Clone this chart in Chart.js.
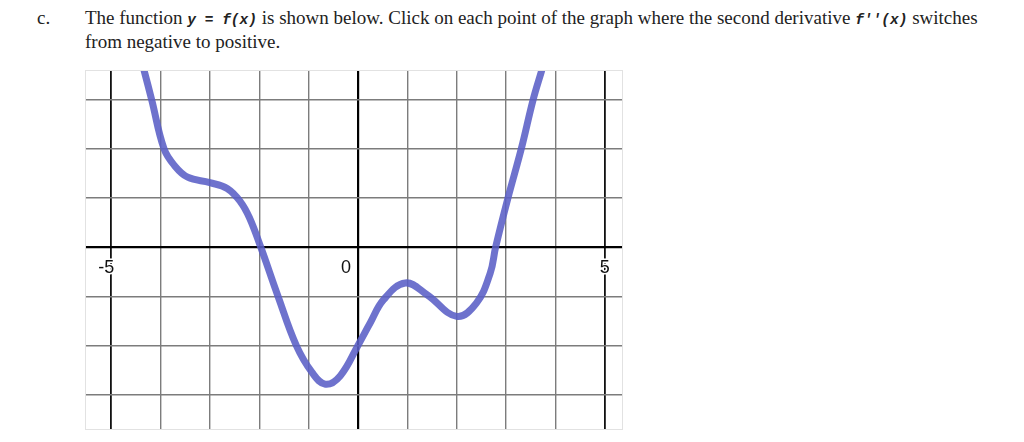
<!DOCTYPE html>
<html>
<head>
<meta charset="utf-8">
<script src="https://cdn.jsdelivr.net/npm/chart.js@4"></script>
<style>
    body { margin: 0; background: #fff; width: 1024px; height: 442px; overflow: hidden; position: relative; }
    .q { position: absolute; font-family: "Liberation Serif", serif; font-size: 19px; color: #222; white-space: nowrap; }
    .q code { font-family: "Liberation Mono", monospace; font-weight: bold; font-style: italic; font-size: 14.5px; }
    #plot { position: absolute; left: 85px; top: 70px; width: 538px; height: 360px; box-sizing: border-box; border: 1px solid #e2e2e2; }
</style>
</head>
<body>
<div class="q" style="left:37px; top:7px;">c.</div>
<div class="q" style="left:85px; top:7px;">The function <code>y = f(x)</code> is shown below. Click on each point of the graph where the second derivative <code>f''(x)</code> switches</div>
<div class="q" style="left:85px; top:31px;">from negative to positive.</div>
<div id="plot"><canvas id="canvas"></canvas></div>
<script>
    // curve points
    var xValues = [-4.33, -4.18, -3.93, -3.72, -3.45, -3.0, -2.65, -2.38, -2.2, -1.97,
                   -1.62, -1.25, -0.93, -0.66, -0.36, 0, 0.25, 0.52, 0.96, 1.40,
                   2.0, 2.40, 2.68, 2.79, 3.04, 3.31, 3.55, 3.72];
    var yValues = [3.58, 3.0, 2.0, 1.66, 1.42, 1.31, 1.19, 0.92, 0.6, 0,
                   -1.0, -2.0, -2.55, -2.79, -2.62, -2.0, -1.54, -1.07, -0.73, -0.97,
                   -1.41, -1.14, -0.53, 0, 1.0, 2.0, 3.0, 3.58];
    var tickValues = [-5, 0, 5];
    var tickLabels = ['-5', '0', '5'];

    var points = xValues.map(function (x, i) { return { x: x, y: yValues[i] }; });

    var gridColor = function (c) {
        var v = c.tick.value;
        if (v === 0) return '#000';
        if (c.scale.axis === 'x' && Math.abs(v) === 5) return '#111';
        return '#7c7c7c';
    };
    var gridWidth = function (c) {
        var v = c.tick.value;
        if (v === 0) return 2.2;
        if (c.scale.axis === 'x' && Math.abs(v) === 5) return 1.8;
        return 1.4;
    };

    var axisLabels = {
        id: 'axisLabels',
        afterDatasetsDraw: function (chart) {
            var ctx = chart.ctx;
            var xs = chart.scales.x, ys = chart.scales.y;
            var base = ys.getPixelForValue(0) + 26;
            ctx.save();
            ctx.font = '18px "Liberation Sans", Arial, sans-serif';
            ctx.textBaseline = 'alphabetic';
            ctx.lineJoin = 'round';
            tickValues.forEach(function (v, i) {
                var px = xs.getPixelForValue(v);
                if (v === 0) { ctx.textAlign = 'right'; px -= 7; }
                else if (v < 0) { ctx.textAlign = 'center'; px -= 5; }
                else { ctx.textAlign = 'center'; }
                ctx.strokeStyle = '#fff';
                ctx.lineWidth = 3;
                ctx.strokeText(tickLabels[i], px, base);
                ctx.fillStyle = '#111';
                ctx.fillText(tickLabels[i], px, base);
            });
            ctx.restore();
        }
    };

    var ctx = document.getElementById("canvas").getContext("2d");

    var myLineChart = new Chart(ctx, {
        type: 'line',
        data: {
            datasets: [
                {
                    data: points,
                    borderColor: "rgba(90, 95, 198, 0.88)",
                    borderWidth: 7,
                    borderCapStyle: 'round',
                    borderJoinStyle: 'round',
                    pointRadius: 0,
                    tension: 0.4,
                    fill: false
                }
            ]
        },
        options: {
            responsive: true,
            maintainAspectRatio: false,
            animation: false,
            layout: { padding: 0 },
            plugins: { legend: { display: false }, tooltip: { enabled: false } },
            scales: {
                x: {
                    type: 'linear',
                    min: -5.51,
                    max: 5.35,
                    ticks: { display: false, stepSize: 1, includeBounds: false },
                    border: { display: false },
                    grid: { drawTicks: false, color: gridColor, lineWidth: gridWidth }
                },
                y: {
                    type: 'linear',
                    min: -3.7,
                    max: 3.58,
                    ticks: { display: false, stepSize: 1, includeBounds: false },
                    border: { display: false },
                    grid: { drawTicks: false, color: gridColor, lineWidth: gridWidth }
                }
            }
        },
        plugins: [axisLabels]
    });
</script>
</body>
</html>
